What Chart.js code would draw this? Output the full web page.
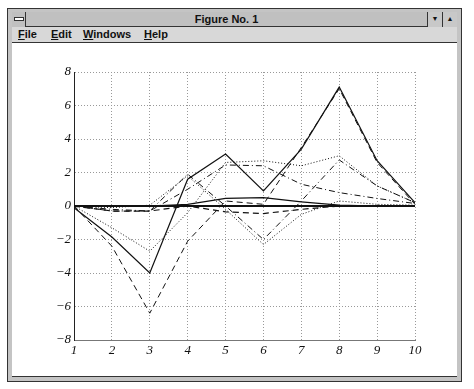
<!DOCTYPE html>
<html>
<head>
<meta charset="utf-8">
<script src="https://cdn.jsdelivr.net/npm/chart.js@4"></script>
<style>
  body { margin: 0; background: #fff; width: 474px; height: 389px; overflow: hidden; position: relative; font-family: "Liberation Sans", Arial, sans-serif; }
  .frame { position: absolute; left: 7px; top: 8px; width: 455px; height: 374px; box-sizing: border-box; border: 1px solid #333; background: #c4c4c4; }
  .title { position: absolute; left: 12px; top: 12px; width: 445px; height: 15px; background: #c0c0c0; border-bottom: 1px solid #333; box-sizing: border-box; }
  .title span { position: absolute; left: 14px; right: 30px; top: 0; text-align: center; font-weight: bold; font-size: 11px; line-height: 14px; color: #111; }
  .sys { position: absolute; left: 12px; top: 12px; width: 14px; height: 15px; border-right: 1px solid #333; box-sizing: border-box; background: #c0c0c0; }
  .sys div { position: absolute; left: 2px; top: 5px; width: 8px; height: 2px; background: #fff; border: 1px solid #333; }
  .btn { position: absolute; top: 12px; width: 15px; height: 15px; box-sizing: border-box; border-left: 1px solid #333; background: #c8c8c8; font-size: 7px; text-align: center; line-height: 14px; color: #111; }
  .menu { position: absolute; left: 12px; top: 27px; width: 445px; height: 16px; background: #d8d8d8; border-bottom: 1px solid #333; box-sizing: border-box; font-size: 11px; font-weight: bold; color: #111; }
  .menu span { position: absolute; top: 1px; }
  .menu u { text-decoration: underline; }
  .client { position: absolute; left: 12px; top: 43px; width: 445px; height: 333px; background: #fff; border-bottom: 1px solid #333; }
</style>
</head>
<body>
<div class="frame"></div>
<div class="title"><span>Figure No. 1</span></div>
<div class="sys"><div></div></div>
<div class="btn" style="left:427px">&#9660;</div>
<div class="btn" style="left:442px">&#9650;</div>
<div class="menu">
  <span style="left:6px"><u>F</u>ile</span>
  <span style="left:39px"><u>E</u>dit</span>
  <span style="left:71px"><u>W</u>indows</span>
  <span style="left:132px"><u>H</u>elp</span>
</div>
<div class="client"><canvas id="fig" width="445" height="333"></canvas></div>
<script>
// values, one array per line
const steps = [1, 2, 3, 4, 5, 6, 7, 8, 9, 10]
const solidBig = [-0.1, -1.85, -4.0, 1.6, 3.1, 0.9, 3.4, 7.1, 2.7, 0.2]
const dashedBig = [0, -2.4, -6.4, -2.1, 0.3, 0.1, 3.5, 7.0, 2.6, 0.1]
const dottedBig = [0, -1.3, -2.7, -0.4, 2.6, 2.7, 2.4, 3.0, 1.2, 0.2]
const dashDotHigh = [0, -0.2, -0.3, 1.0, 2.45, 2.4, 1.3, 0.8, 0.45, 0.15]
const dashDotPeak = [0, -0.3, -0.3, 1.9, 0.0, -2.0, 0.3, 2.75, 1.2, 0.2]
const dottedDip = [0, -0.1, 0.05, 1.8, -0.2, -2.3, -0.5, 0.3, 0.1, 0.05]
const solidSmall = [0, 0, 0, 0.1, 0.45, 0.5, 0.25, 0.05, 0, 0]
const dashedSmall = [0, -0.3, -0.3, 0.0, -0.35, -0.45, -0.2, 0, 0, 0]
const flatZero = [0, 0, 0, 0, 0, 0, 0, 0, 0, 0]
const yTicks = [-8, -6, -4, -2, 0, 2, 4, 6, 8]

const styles = {
    solid: [],
    dashed: [6, 4],
    dotted: [1, 2],
    dashDot: [6, 3, 1, 3]
}

function series(values, dash, width) {
    return {
        data: values.map((v, i) => ({ x: steps[i], y: v })),
        borderColor: '#111',
        borderWidth: width || 1,
        borderDash: dash,
        pointRadius: 0,
        tension: 0,
        fill: false
    }
}

document.addEventListener('DOMContentLoaded', () => {
    const ctx = document.getElementById('fig').getContext('2d')
    const tickFont = { family: '"Liberation Serif", "DejaVu Serif", serif', style: 'italic', size: 13 }

    new Chart(ctx, {
        type: 'line',
        data: {
            datasets: [
                series(flatZero, styles.solid, 2),
                series(solidBig, styles.solid, 1.2),
                series(dashedBig, styles.dashed),
                series(dottedBig, styles.dotted),
                series(dashDotHigh, styles.dashDot),
                series(dashDotPeak, styles.dashDot),
                series(dottedDip, styles.dotted),
                series(solidSmall, styles.solid, 1.2),
                series(dashedSmall, styles.dashed, 1.2)
            ]
        },
        options: {
            responsive: false,
            animation: false,
            layout: { padding: { top: 29, right: 42, left: 0, bottom: 0 } },
            plugins: { legend: { display: false }, tooltip: { enabled: false } },
            scales: {
                x: {
                    type: 'linear',
                    min: 1,
                    max: 10,
                    afterBuildTicks: (axis) => { axis.ticks = steps.map(v => ({ value: v })) },
                    afterFit: (axis) => { axis.height = 36 },
                    grid: { color: '#999', drawTicks: false },
                    border: { display: true, color: '#777', width: 1, dash: [1, 2] },
                    ticks: { color: '#111', font: tickFont, padding: 3, maxRotation: 0 }
                },
                y: {
                    min: -8,
                    max: 8,
                    afterBuildTicks: (axis) => { axis.ticks = yTicks.map(v => ({ value: v })) },
                    afterFit: (axis) => { axis.width = 62 },
                    grid: { color: '#999', drawTicks: false },
                    border: { display: true, color: '#222', width: 1, dash: [1, 2] },
                    ticks: {
                        color: '#111',
                        font: tickFont,
                        padding: 3,
                        callback: (v) => (v < 0 ? '\u2212' + Math.abs(v) : String(v))
                    }
                }
            }
        }
    })
})
</script>
</body>
</html>
